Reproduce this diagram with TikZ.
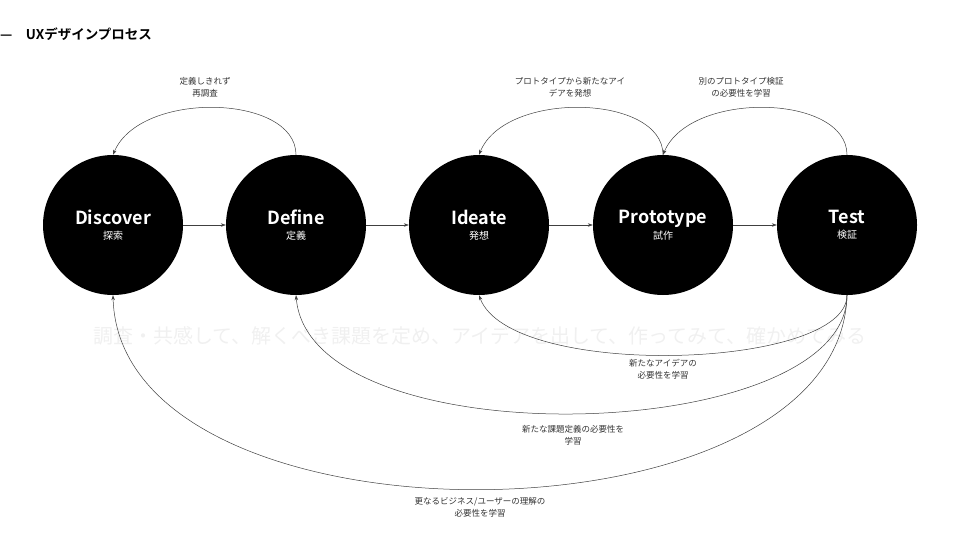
\documentclass[tikz,border=0pt]{standalone}
\usepackage{fontspec}
\setmainfont{Noto Sans CJK JP}[BoldFont={Noto Sans CJK JP Bold}]
\usetikzlibrary{arrows.meta}
\begin{document}
\begin{tikzpicture}[x=1pt,y=-1pt,
  stage/.style={circle,fill=black,minimum size=140pt,inner sep=0pt,text=white,align=center},
  conn/.style={draw=black!75,line width=0.5pt,-{Stealth[length=5pt,width=3.5pt]}},
  lbl/.style={font=\fontsize{8.5}{12}\selectfont,text=black!80,align=center}]
\useasboundingbox (0,0) rectangle (960,540);
\node[anchor=west,inner sep=0pt,font=\fontsize{13.5}{15}\bfseries\selectfont] (title) at (0,34) {—\quad UXデザインプロセス};
\node[font=\fontsize{20}{24}\selectfont,text=black!6] (bg) at (480,336) {調査・共感して、解くべき課題を定め、アイデアを出して、作ってみて、確かめてみる};
\foreach \n/\x/\en/\jp in {dis/113/Discover/探索, def/296/Define/定義, ide/479/Ideate/発想, pro/663/Prototype/試作, tes/847/Test/検証}{
  \node[stage] (\n) at (\x,225) {{\fontsize{18}{20}\bfseries\selectfont \en}\\[3pt]{\fontsize{10}{12}\selectfont \jp}};
}
\draw[conn] (dis) -- (def);
\draw[conn] (def) -- (ide);
\draw[conn] (ide) -- (pro);
\draw[conn] (pro) -- (tes);
% top loops
\draw[conn] (def.north) .. controls (296,94) and (140,90) .. (dis.north);
\draw[conn] (pro.north) .. controls (663,94) and (505,90) .. (ide.north);
\draw[conn] (tes.north) .. controls (847,94) and (690,90) .. (pro.north);
\node[lbl] (l1) at (205,87) {定義しきれず\\再調査};
\node[lbl] (l2) at (570,87) {プロトタイプから新たなアイ\\デアを発想};
\node[lbl] (l3) at (741,87) {別のプロトタイプ検証\\の必要性を学習};
% bottom loops
\draw[conn] (tes.south) .. controls (847,370) and (510,380) .. (ide.south);
\draw[conn] (tes.south) .. controls (847,446) and (310,460) .. (def.south);
\draw[conn] (tes.south) .. controls (840,552) and (120,556) .. (dis.south);
\node[lbl] (l4) at (663,369) {新たなアイデアの\\必要性を学習};
\node[lbl] (l5) at (573,435) {新たな課題定義の必要性を\\学習};
\node[lbl] (l6) at (480,507) {更なるビジネス/ユーザーの理解の\\必要性を学習};
\end{tikzpicture}
\end{document}
